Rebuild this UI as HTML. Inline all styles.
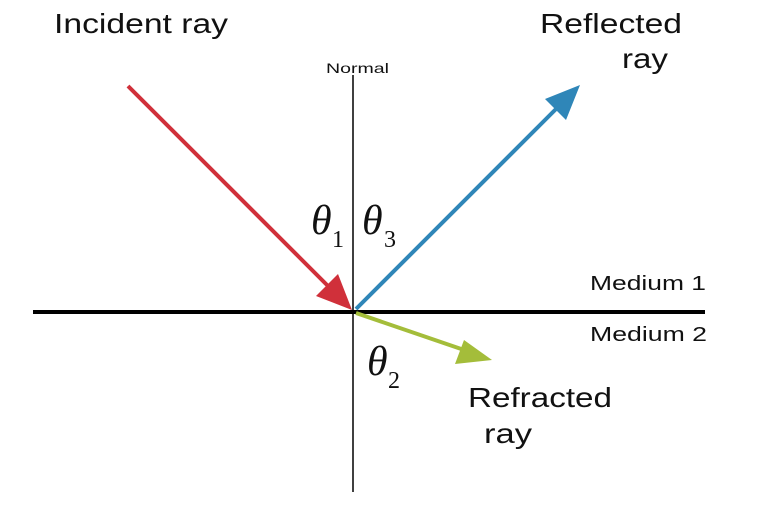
<!DOCTYPE html>
<html><head><style>body{margin:0;background:#fff}</style></head><body>
<svg width="780" height="500" xmlns="http://www.w3.org/2000/svg" font-family="Liberation Sans, sans-serif">
<rect width="780" height="500" fill="#fff"/>
<line x1="353" y1="75" x2="353" y2="492" stroke="#000" stroke-width="1.5"/>
<line x1="33" y1="312" x2="705" y2="312" stroke="#000" stroke-width="4"/>
<line x1="128" y1="86" x2="332" y2="290" stroke="#d0303a" stroke-width="4"/>
<polygon points="352,310 316,296 338,274" fill="#d0303a"/>
<line x1="356" y1="309" x2="562" y2="103" stroke="#2f86b8" stroke-width="4"/>
<polygon points="580,85 566,120 545,99" fill="#2f86b8"/>
<line x1="356" y1="313" x2="470" y2="352" stroke="#a4bd3a" stroke-width="4"/>
<polygon points="492,360 455,364 464,340" fill="#a4bd3a"/>
<text x="54" y="33" font-size="28" fill="#111" textLength="174" lengthAdjust="spacingAndGlyphs">Incident  ray</text>
<text x="540" y="33" font-size="28" fill="#111" textLength="142" lengthAdjust="spacingAndGlyphs">Reflected</text>
<text x="622" y="68" font-size="28" fill="#111" textLength="46" lengthAdjust="spacingAndGlyphs">ray</text>
<text x="326" y="73" font-size="14" fill="#111" textLength="63" lengthAdjust="spacingAndGlyphs">Normal</text>
<text x="590" y="290" font-size="20" fill="#111" textLength="116" lengthAdjust="spacingAndGlyphs">Medium 1</text>
<text x="590" y="341" font-size="20" fill="#111" textLength="117" lengthAdjust="spacingAndGlyphs">Medium 2</text>
<text x="468" y="407" font-size="28" fill="#111" textLength="144" lengthAdjust="spacingAndGlyphs">Refracted</text>
<text x="484" y="443" font-size="28" fill="#111" textLength="48" lengthAdjust="spacingAndGlyphs">ray</text>
<g font-family="Liberation Serif, serif" font-style="italic" fill="#111">
<text x="311" y="234" font-size="42">θ</text><text x="332" y="247" font-size="24" font-style="normal">1</text>
<text x="362" y="234" font-size="42">θ</text><text x="384" y="247" font-size="24" font-style="normal">3</text>
<text x="367" y="375" font-size="42">θ</text><text x="388" y="388" font-size="24" font-style="normal">2</text>
</g>
</svg>
</body></html>
